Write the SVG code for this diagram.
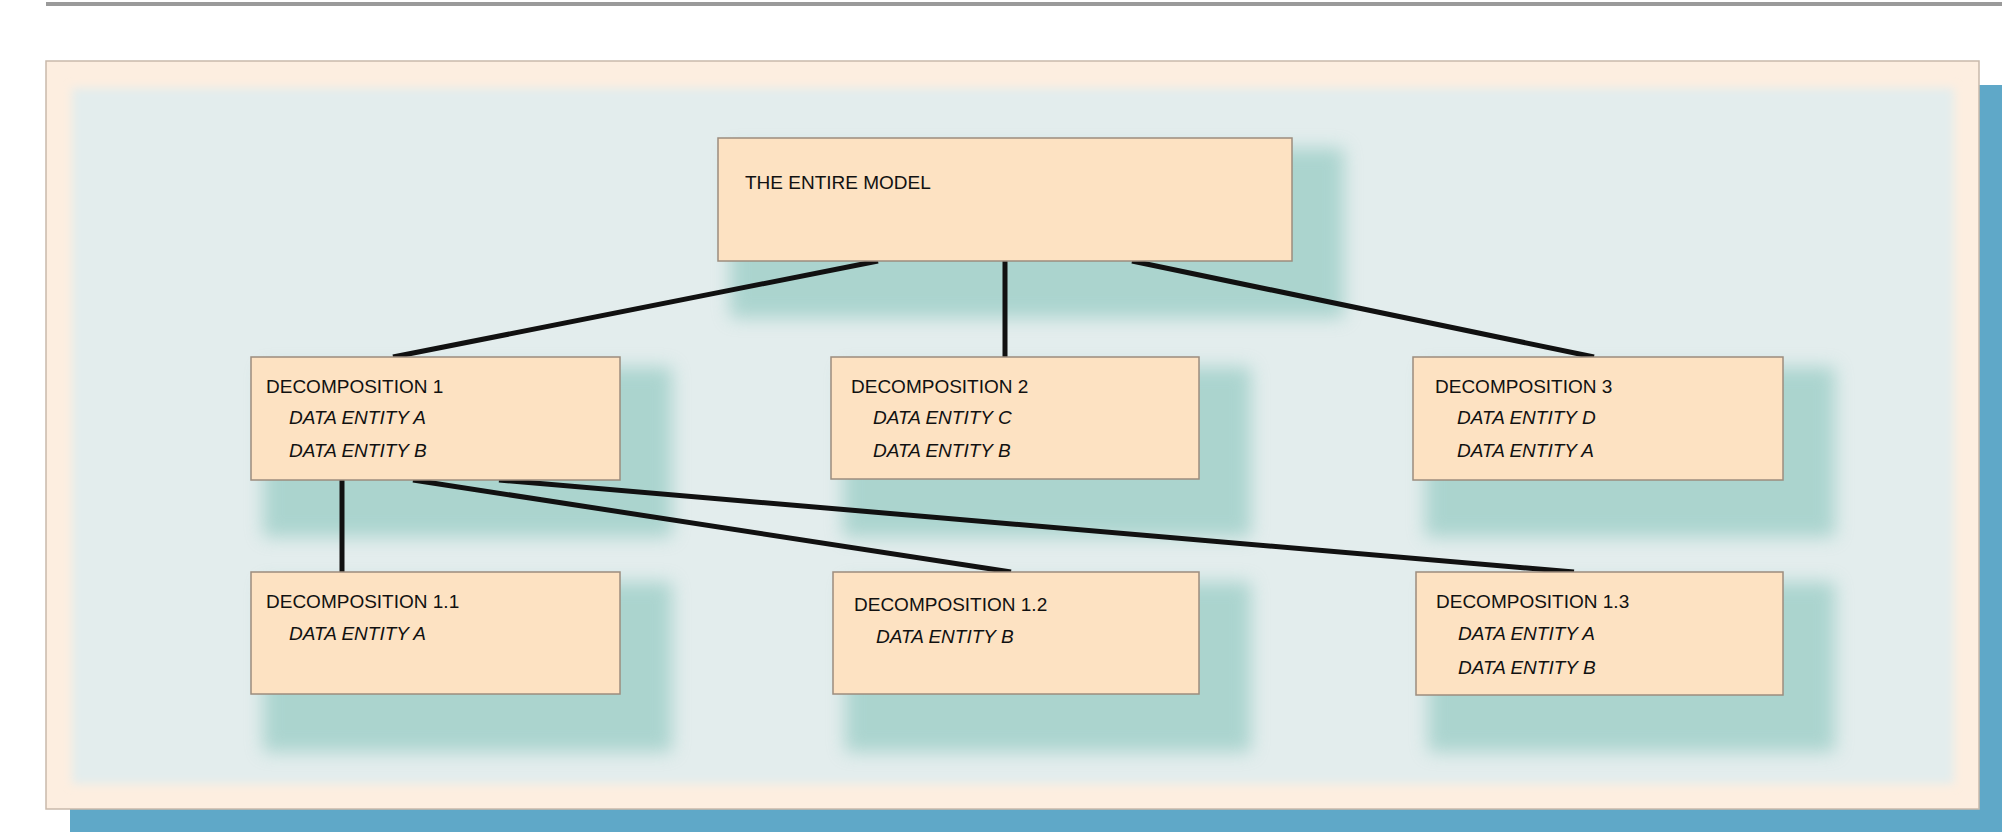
<svg xmlns="http://www.w3.org/2000/svg" width="2002" height="834" viewBox="0 0 2002 834">
<defs>
<filter id="blur" x="-20%" y="-20%" width="140%" height="140%"><feGaussianBlur stdDeviation="9"/></filter>
<filter id="soft" x="-5%" y="-5%" width="110%" height="110%"><feGaussianBlur stdDeviation="5"/></filter>
<style>
.box{fill:#fde2c2;stroke:#9c8c7e;stroke-width:1.5}
.sh{fill:#86c4bb;opacity:0.6;filter:url(#blur)}
.t{font-family:"Liberation Sans",Arial,sans-serif;font-size:19px;fill:#111}
.i{font-style:italic}
.c{stroke:#111;stroke-width:5;fill:none}
</style>
</defs>
<rect width="2002" height="834" fill="#fff"/>
<rect x="46" y="2" width="1956" height="4" fill="#9a9a9a"/>
<rect x="70" y="85" width="1932" height="747" fill="#5fa8c8"/>
<rect x="46" y="61" width="1933" height="748" fill="#fdeee0" stroke="#c9b9ab" stroke-width="1.5"/>
<rect x="72" y="88" width="1882" height="696" fill="#e3eded" filter="url(#soft)"/>
<g id="shadows">
<rect class="sh" x="730" y="148" width="614" height="170"/>
<rect class="sh" x="263" y="367" width="409" height="170"/>
<rect class="sh" x="843" y="367" width="408" height="170"/>
<rect class="sh" x="1425" y="367" width="410" height="170"/>
<rect class="sh" x="263" y="582" width="409" height="170"/>
<rect class="sh" x="845" y="582" width="406" height="170"/>
<rect class="sh" x="1428" y="582" width="407" height="170"/>
</g>
<g id="connectors">
<line class="c" x1="878" y1="261" x2="393" y2="357"/>
<line class="c" x1="1005" y1="261" x2="1005" y2="357"/>
<line class="c" x1="1132" y1="261" x2="1594" y2="357"/>
<line class="c" x1="342" y1="480" x2="342" y2="572"/>
<line class="c" x1="413" y1="480" x2="1011" y2="572"/>
<line class="c" x1="499" y1="480" x2="1574" y2="572"/>
</g>
<g id="top">
<rect class="box" x="718" y="138" width="574" height="123"/>
<text class="t" x="745" y="189">THE ENTIRE MODEL</text>
</g>
<g id="d1">
<rect class="box" x="251" y="357" width="369" height="123"/>
<text class="t" x="266" y="393">DECOMPOSITION 1</text>
<text class="t i" x="289" y="424">DATA ENTITY A</text>
<text class="t i" x="289" y="457">DATA ENTITY B</text>
</g>
<g id="d2">
<rect class="box" x="831" y="357" width="368" height="122"/>
<text class="t" x="851" y="393">DECOMPOSITION 2</text>
<text class="t i" x="873" y="424">DATA ENTITY C</text>
<text class="t i" x="873" y="457">DATA ENTITY B</text>
</g>
<g id="d3">
<rect class="box" x="1413" y="357" width="370" height="123"/>
<text class="t" x="1435" y="393">DECOMPOSITION 3</text>
<text class="t i" x="1457" y="424">DATA ENTITY D</text>
<text class="t i" x="1457" y="457">DATA ENTITY A</text>
</g>
<g id="d11">
<rect class="box" x="251" y="572" width="369" height="122"/>
<text class="t" x="266" y="608">DECOMPOSITION 1.1</text>
<text class="t i" x="289" y="640">DATA ENTITY A</text>
</g>
<g id="d12">
<rect class="box" x="833" y="572" width="366" height="122"/>
<text class="t" x="854" y="611">DECOMPOSITION 1.2</text>
<text class="t i" x="876" y="643">DATA ENTITY B</text>
</g>
<g id="d13">
<rect class="box" x="1416" y="572" width="367" height="123"/>
<text class="t" x="1436" y="608">DECOMPOSITION 1.3</text>
<text class="t i" x="1458" y="640">DATA ENTITY A</text>
<text class="t i" x="1458" y="674">DATA ENTITY B</text>
</g>
</svg>
